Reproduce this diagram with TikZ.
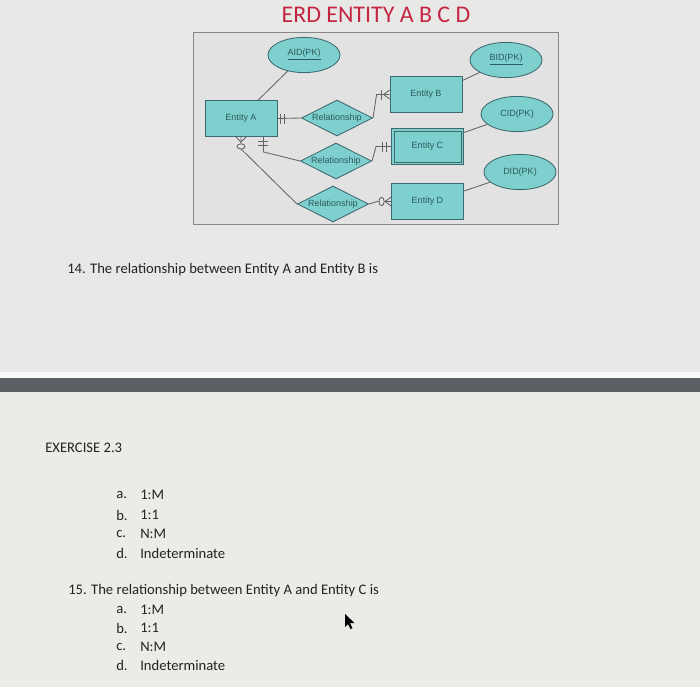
\documentclass[tikz,border=0pt]{standalone}
\usepackage{fontspec}
\setmainfont{Carlito}
\newfontfamily\diagfont{Liberation Sans}
\usetikzlibrary{shapes.geometric, calc}
\definecolor{pagetop}{RGB}{232,232,231}
\definecolor{pagebot}{RGB}{236,235,232}
\definecolor{boxbg}{RGB}{226,226,226}
\definecolor{boxline}{RGB}{135,135,135}
\definecolor{tealfill}{RGB}{125,208,205}
\definecolor{tealline}{RGB}{62,105,110}
\definecolor{tealtext}{RGB}{45,90,96}
\definecolor{connline}{RGB}{100,100,100}
\definecolor{titlered}{RGB}{196,38,66}
\definecolor{barcol}{RGB}{92,96,100}
\definecolor{qtext}{RGB}{35,35,35}
\tikzset{
    entity/.style={rectangle, draw=tealline, fill=tealfill, line width=0.6pt, minimum width=1.8cm, minimum height=0.9cm, text=tealtext, font=\diagfont\fontsize{6.4}{7}\selectfont},
    rel/.style={diamond, draw=tealline, fill=tealfill, line width=0.6pt, aspect=2, inner sep=0pt, minimum width=1.78cm, minimum height=0.9cm, text=tealtext, font=\diagfont\fontsize{6.4}{7}\selectfont},
    attr/.style={ellipse, draw=tealline, fill=tealfill, line width=0.6pt, minimum width=1.8cm, minimum height=0.88cm, text=tealtext, font=\diagfont\fontsize{6.4}{7}\selectfont},
    conn/.style={draw=connline, line width=0.6pt},
    qline/.style={anchor=west, inner sep=0pt, text=qtext, font=\fontsize{10.4}{12}\selectfont},
}
\begin{document}
\begin{tikzpicture}[x=0.025cm, y=-0.025cm]
    \useasboundingbox (0,0) rectangle (700,687);
    % Page and divider bar
    \fill [pagetop] (0,0) rectangle (700,375);
    \fill [pagebot] (0,375) rectangle (700,687);
    \fill [white!70!pagebot] (0,372) rectangle (700,378);
    \fill [barcol] (0,378) rectangle (700,392);
    % Title
    \node [text=titlered, font=\fontsize{17}{20}\selectfont] (title) at (376,15) {ERD ENTITY A B C D};
    % Diagram frame
    \node [draw=boxline, fill=boxbg, line width=0.6pt, minimum width=9.125cm, minimum height=4.8cm, inner sep=0pt] (frame) at (375.5,128) {};
    % Entities
    \node [entity] (ea) at (241,118.5) {Entity A};
    \node [entity] (eb) at (426,94.5) {Entity B};
    \node [entity] (ec) at (427.5,146.5) {Entity C};
    \node [entity] (ed) at (427.5,201.5) {Entity D};
    % weak entity: inner border
    \draw [tealline, line width=0.6pt] ($(ec.south west)+(3,-3)$) rectangle ($(ec.north east)+(-3,3)$);
    % Relationships
    \node [rel] (r1) at (337,118) {Relationship};
    \node [rel] (r2) at (336,161) {Relationship};
    \node [rel] (r3) at (333,204) {Relationship};
    % Attributes
    \node [attr] (aid) at (304,55) {\underline{AID(PK)}};
    \node [attr] (bid) at (506,60) {\underline{BID(PK)}};
    \node [attr] (cid) at (517,114) {CID(PK)};
    \node [attr] (did) at (520,172) {DID(PK)};
    % Attribute links
    \draw [conn] (aid) -- (ea.47);
    \draw [conn] (bid) -- (eb.21);
    \draw [conn] (cid) -- (ec.21);
    \draw [conn] (did) -- (ed.16);
    % A -- R1: one and only one
    \draw [conn] (ea.east) -- (r1.west);
    \draw [conn] ($(ea.east)+(3,-5)$) -- ++(0,10);
    \draw [conn] ($(ea.east)+(7,-5)$) -- ++(0,10);
    % A -- R2: one and only one
    \coordinate (a2) at ($(ea.south east)+(-14,0)$);
    \draw [conn] (a2) -- ++(0,15) -- (r2.west);
    \draw [conn] ($(a2)+(-5,4)$) -- ++(10,0);
    \draw [conn] ($(a2)+(-5,8)$) -- ++(10,0);
    % A -- R3: zero or many
    \draw [conn] (ea.south) -- ++(0,12) -- (r3.west);
    \draw [conn] ($(ea.south)+(-5,0)$) -- ($(ea.south)+(0,5)$) -- ($(ea.south)+(5,0)$);
    \draw [conn, fill=boxbg] ($(ea.south)+(0,9.5)$) ellipse [x radius=4, y radius=2.6];
    % R1 -- B: one or many
    \draw [conn] (r1.east) -- ($(eb.west)+(-13,0)$) -- (eb.west);
    \draw [conn] ($(eb.west)+(-8,-5)$) -- ++(0,10);
    \draw [conn] ($(eb.west)+(0,-4.5)$) -- ($(eb.west)+(-6,0)$) -- ($(eb.west)+(0,4.5)$);
    % R2 -- C: one and only one
    \draw [conn] (r2.east) -- ($(ec.west)+(-15,0)$) -- (ec.west);
    \draw [conn] ($(ec.west)+(-9,-5)$) -- ++(0,10);
    \draw [conn] ($(ec.west)+(-5,-5)$) -- ++(0,10);
    % R3 -- D: zero or many
    \draw [conn] (r3.east) -- ($(ed.west)+(-14,0)$) -- (ed.west);
    \draw [conn] ($(ed.west)+(0,-4.5)$) -- ($(ed.west)+(-6,0)$) -- ($(ed.west)+(0,4.5)$);
    \draw [conn, fill=boxbg] ($(ed.west)+(-9.5,0)$) ellipse [x radius=2.6, y radius=4.2];
    % Questions
    \node [qline] (q14) at (67,270) {14. The relationship between Entity A and Entity B is};
    \node [qline] (ex) at (45,448) {EXERCISE 2.3};
    \node [qline] (o1a) at (116,495) {a.};
    \node [qline] (o1b) at (116,515) {b.};
    \node [qline] (o1c) at (116,534) {c.};
    \node [qline] (o1d) at (116,553) {d.};
    \node [qline] (v1a) at (140,495) {1:M};
    \node [qline] (v1b) at (140,515) {1:1};
    \node [qline] (v1c) at (140,534) {N:M};
    \node [qline] (v1d) at (140,553) {Indeterminate};
    \node [qline] (q15) at (68,591) {15. The relationship between Entity A and Entity C is};
    \node [qline] (o2a) at (116,610) {a.};
    \node [qline] (o2b) at (116,628) {b.};
    \node [qline] (o2c) at (116,647) {c.};
    \node [qline] (o2d) at (116,665) {d.};
    \node [qline] (v2a) at (140,610) {1:M};
    \node [qline] (v2b) at (140,628) {1:1};
    \node [qline] (v2c) at (140,647) {N:M};
    \node [qline] (v2d) at (140,665) {Indeterminate};
    % Mouse pointer
    \fill [black] (345,614) -- ++(0,13) -- ++(3,-3) -- ++(2.5,5) -- ++(2,-1) -- ++(-2.5,-5) -- ++(4.5,0) -- cycle;
\end{tikzpicture}
\end{document}
